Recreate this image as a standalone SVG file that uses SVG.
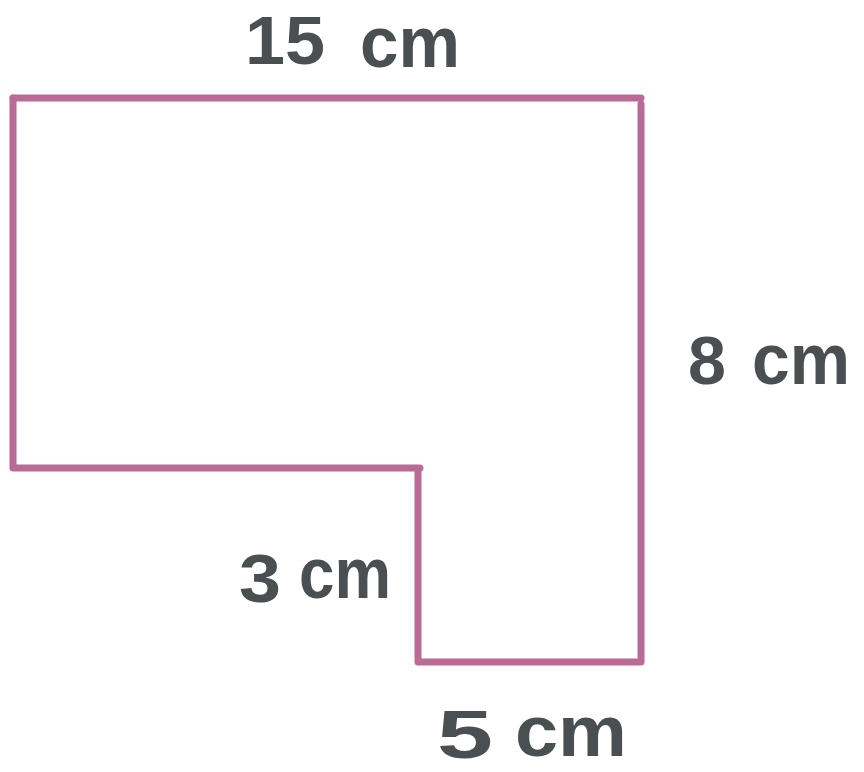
<svg xmlns="http://www.w3.org/2000/svg" width="864" height="772" viewBox="0 0 864 772">
<style>
.edge{fill:none;stroke:#b96b96;stroke-width:7;stroke-linecap:round;stroke-linejoin:round}
.lbl{font-family:"Liberation Sans",Arial,sans-serif;font-weight:bold;fill:#4a4f51}
.d{font-size:68px}
.u{font-size:72px}
</style>
<rect width="864" height="772" fill="#ffffff"/>
<g id="connectors">
<path class="edge" d="M13,98 L641,98"/>
<path class="edge" d="M641,104 L641,662 L418,662 L418,470"/>
<path class="edge" d="M420,468 L13,468 L13,98"/>
</g>
<g id="label-15cm">
<text class="lbl d" x="245" y="64" textLength="80" lengthAdjust="spacingAndGlyphs">15</text>
<text class="lbl u" x="360" y="67" textLength="100" lengthAdjust="spacingAndGlyphs">cm</text>
</g>
<g id="label-8cm">
<text class="lbl d" x="688" y="384" textLength="38" lengthAdjust="spacingAndGlyphs">8</text>
<text class="lbl u" x="752" y="384" textLength="98" lengthAdjust="spacingAndGlyphs">cm</text>
</g>
<g id="label-3cm">
<text class="lbl d" x="239" y="602" textLength="42" lengthAdjust="spacingAndGlyphs">3</text>
<text class="lbl u" x="299" y="598" textLength="92" lengthAdjust="spacingAndGlyphs">cm</text>
</g>
<g id="label-5cm">
<text class="lbl d" x="437" y="758" textLength="56" lengthAdjust="spacingAndGlyphs">5</text>
<text class="lbl u" x="515" y="756" textLength="112" lengthAdjust="spacingAndGlyphs">cm</text>
</g>
</svg>
